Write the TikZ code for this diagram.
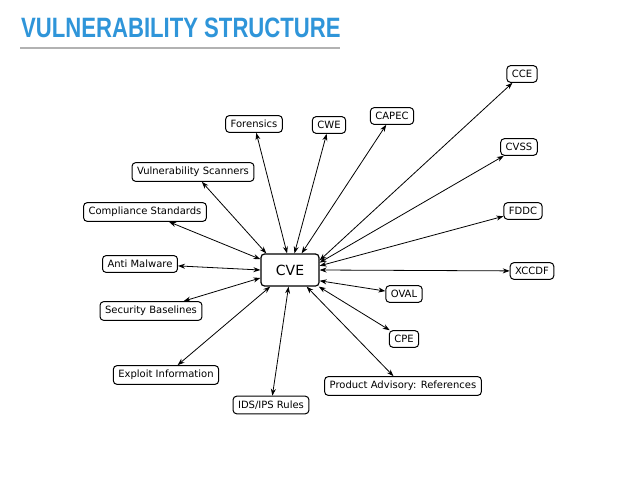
\documentclass[tikz,border=0pt]{standalone}
\usepackage{fontspec}
\setmainfont{DejaVu Sans}
\newfontfamily\titlefont{Liberation Sans}
\usetikzlibrary{arrows.meta}
\begin{document}
\begin{tikzpicture}[x=1pt,y=-1pt,
  box/.style={draw,rounded corners=3.5pt,line width=1pt,font=\fontsize{10}{12}\selectfont,inner xsep=5pt,inner ysep=4.5pt,fill=white},
  link/.style={{Stealth[length=7pt,width=5pt]}-{Stealth[length=7pt,width=5pt]},line width=0.8pt}]
\useasboundingbox (0,0) rectangle (638,479);
\node[anchor=west,text=cyan!70!blue!85!white,font=\titlefont\bfseries\fontsize{28}{30}\selectfont,xscale=0.79,inner sep=0pt] (title) at (21,28) {VULNERABILITY STRUCTURE};
\coordinate (l1) at (20,48); \coordinate (l2) at (340,48);
\draw[gray!60,line width=1.2pt] (l1) -- (l2);
\node[box,minimum width=58pt,minimum height=32pt,font=\fontsize{14}{16}\selectfont,line width=1.2pt] (cve) at (290,270) {CVE};
\node[box] (cce) at (522,74) {CCE};
\node[box] (cvss) at (519,147) {CVSS};
\node[box] (fddc) at (523,211) {FDDC};
\node[box] (xccdf) at (532,271) {XCCDF};
\node[box] (oval) at (404,294) {OVAL};
\node[box] (cpe) at (404,339) {CPE};
\node[box] (pa) at (403,386) {Product Advisory: References};
\node[box] (ids) at (271,405) {IDS/IPS Rules};
\node[box] (exp) at (166,375) {Exploit Information};
\node[box] (sec) at (151,311) {Security Baselines};
\node[box] (am) at (140,264) {Anti Malware};
\node[box] (cs) at (145,212) {Compliance Standards};
\node[box] (vs) at (193,172) {Vulnerability Scanners};
\node[box] (for) at (254,124) {Forensics};
\node[box] (cwe) at (329,125) {CWE};
\node[box] (capec) at (392,116) {CAPEC};
\foreach \n/\a in {cce/18,cvss/14,fddc/8,xccdf/0,oval/-20,cpe/-30,pa/-45,ids/-95,exp/-140,sec/-165,am/180,cs/160,vs/145,for/100,cwe/75,capec/55}
  \draw[link] (cve.\a) -- (\n);
\end{tikzpicture}
\end{document}
